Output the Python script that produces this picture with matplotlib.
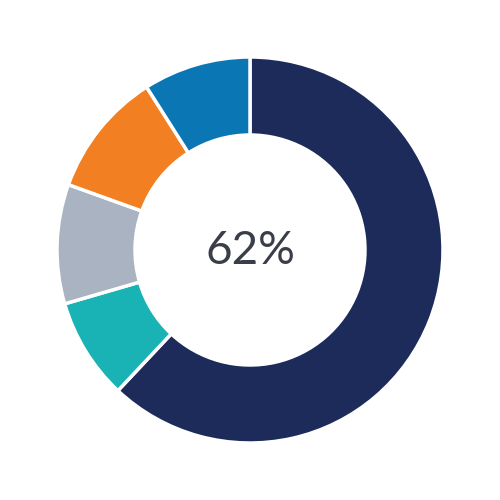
import matplotlib.pyplot as plt

labels = ["Navy", "Teal", "Gray", "Orange", "Blue"]
values = [62, 8.5, 10, 10.5, 9]
colors = ["#1c2b5a", "#1ab3b5", "#a9b3c1", "#f27f22", "#0a77b4"]
center_text = "62%"

fig = plt.figure(figsize=(5, 5), dpi=100)
ax = fig.add_axes([0, 0, 1, 1])

ax.pie(values, colors=colors, radius=193, startangle=90, counterclock=False,
       wedgeprops=dict(width=78, edgecolor="white", linewidth=2.5))
ax.text(0, -1, center_text, ha="center", va="center", fontsize=33,
        family="Lato", fontweight="normal", color="#3a3e48")

ax.set_xlim(-250, 250)
ax.set_ylim(-250, 250)
ax.set_aspect("equal")
ax.axis("off")

fig.savefig("out.png", dpi=100, facecolor="white")
